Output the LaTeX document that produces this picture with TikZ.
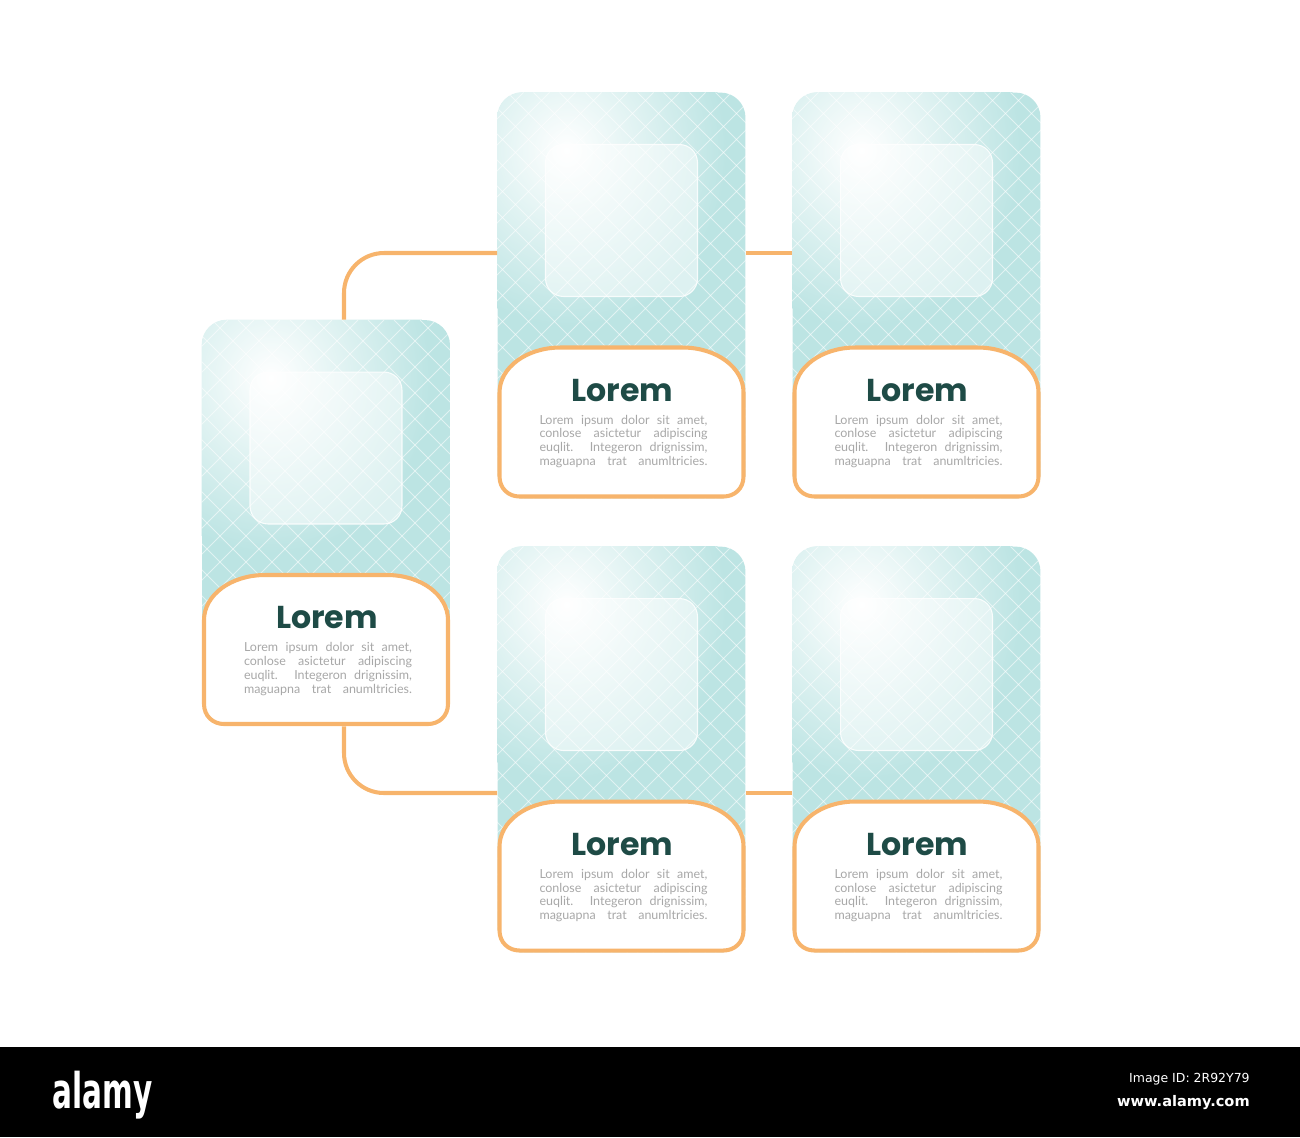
\documentclass[tikz,border=0pt]{standalone}
\usepackage{fontspec}
\setmainfont{Lato}
\newfontfamily\titlefont{Poppins}
\newfontfamily\markfont{DejaVu Sans}
\usetikzlibrary{positioning}
\definecolor{cardteal}{HTML}{BCE4E3}
\definecolor{lineorange}{HTML}{F7B46C}
\definecolor{titlegreen}{HTML}{1E4B46}
\definecolor{bodygray}{HTML}{A8A8A8}

\tikzset{
  card/.style={rectangle, rounded corners=0.5cm, fill=cardteal,
    minimum width=4.96cm, minimum height=8.12cm, inner sep=0pt},
  picbox/.style={rectangle, rounded corners=0.36cm, fill=white, fill opacity=0.5,
    draw=white, draw opacity=0.85, line width=0.6pt,
    minimum width=3.04cm, minimum height=3.04cm},
  panel/.style={draw=lineorange, line width=2.3pt, fill=white},
  link/.style={draw=lineorange, line width=2.3pt, rounded corners=0.8cm},
  hatch/.style={white, line width=0.5pt, opacity=0.55},
  cardtitle/.style={font=\titlefont\bfseries\fontsize{18}{22}\selectfont, text=titlegreen},
  cardbody/.style={font=\fontsize{7.1}{7.94}\selectfont, text=bodygray, align=left, inner sep=0pt}
}

\begin{document}
\begin{tikzpicture}[x=0.02cm, y=-0.02cm]
\useasboundingbox (0,0) rectangle (1300,1137);

% cards
\foreach \nm/\cx/\cy in {c1/326/523, c2/621.5/295.5, c3/916.5/295.5, c4/621.5/749.5, c5/916.5/749.5}{
  \node[card] (\nm) at (\cx,\cy) {};
  \begin{scope}
    \clip[rounded corners=0.5cm] (\nm.south west) rectangle (\nm.north east);
    \shade[inner color=white, outer color=cardteal] ({\cx-55},{\cy-145}) ellipse[x radius=160, y radius=175];
    \foreach \k in {0,...,26}{
      \draw[hatch] ({\cx-530+\k*26},{\cy-203}) -- ++(406,406);
      \draw[hatch] ({\cx-124+\k*26},{\cy-203}) -- ++(-406,406);
    }
  \end{scope}
  \node[picbox] (\nm-pic) at (\cx,{\cy-75}) {};
  \draw[panel] ({\cx-122},{\cy+97}) .. controls ({\cx-122},{\cy+72}) and ({\cx-95},{\cy+52}) .. ({\cx-61},{\cy+52})
    -- ({\cx+61},{\cy+52}) .. controls ({\cx+95},{\cy+52}) and ({\cx+122},{\cy+72}) .. ({\cx+122},{\cy+97})
    -- ({\cx+122},{\cy+181}) .. controls ({\cx+122},{\cy+193}) and ({\cx+113},{\cy+201}) .. ({\cx+102},{\cy+201})
    -- ({\cx-102},{\cy+201}) .. controls ({\cx-113},{\cy+201}) and ({\cx-122},{\cy+193}) .. ({\cx-122},{\cy+181})
    -- cycle;
  \node[cardtitle] (\nm-title) at ({\cx+1},{\cy+95}) {Lorem};
  \node[cardbody] (\nm-body) at ({\cx+2},{\cy+146})
    {\makebox[3.36cm][s]{Lorem ipsum dolor sit amet,}\\
     \makebox[3.36cm][s]{conlose asictetur adipiscing}\\
     \makebox[3.36cm][s]{euqlit. Integeron drignissim,}\\
     \makebox[3.36cm][s]{maguapna trat anumltricies.}};
}

% links
\draw[link] ([xshift=0.36cm]c1.north) |- ([yshift=0.85cm]c2.west);
\draw[link] ([yshift=0.85cm]c2.east) -- ([yshift=0.85cm]c3.west);
\draw[link] ([xshift=0.36cm]c1.south) |- ([yshift=-0.87cm]c4.west);
\draw[link] ([yshift=-0.87cm]c4.east) -- ([yshift=-0.87cm]c5.west);

% footer band
\fill[black] (0,1047) rectangle (1300,1137);
\node[anchor=base west, text=white, inner sep=0pt,
  font=\markfont\bfseries\fontsize{28}{28}\selectfont] (brand) at (52,1108) {\scalebox{0.6}[1]{alamy}};
\node[anchor=east, text=white, inner sep=0pt,
  font=\markfont\fontsize{7.1}{8}\selectfont] (imgid) at (1250,1079) {Image ID: 2R92Y79};
\node[anchor=east, text=white, inner sep=0pt,
  font=\markfont\bfseries\fontsize{8.3}{9}\selectfont] (site) at (1250,1103) {www.alamy.com};
\end{tikzpicture}
\end{document}
